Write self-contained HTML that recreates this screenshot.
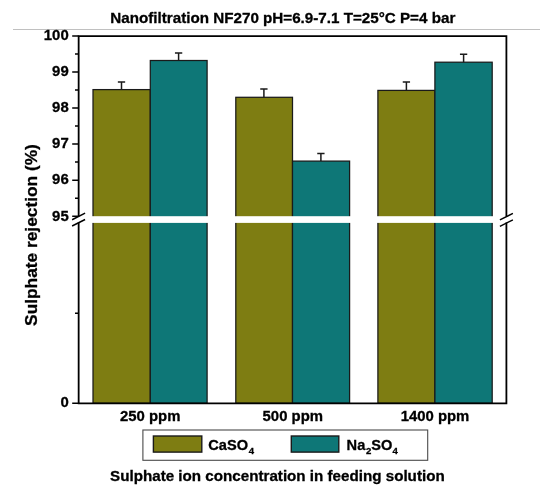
<!DOCTYPE html>
<html>
<head>
<meta charset="utf-8">
<style>
html,body{margin:0;padding:0;background:#fff;}
body{width:550px;height:494px;overflow:hidden;}
svg{display:block;}
text{font-family:"Liberation Sans",Arial,sans-serif;font-weight:bold;fill:#000;stroke:#000;stroke-width:0.3px;}
</style>
</head>
<body>
<svg width="550" height="494" viewBox="0 0 550 494">
<rect x="0" y="0" width="550" height="494" fill="#fff"/>
<text x="110.3" y="22.8" font-size="15.2" textLength="345" lengthAdjust="spacingAndGlyphs">Nanofiltration NF270 pH=6.9-7.1 T=25°C P=4 bar</text>
<rect x="13" y="29" width="527" height="1" fill="#c0c0c0"/>
<g stroke="#1a1a1a" stroke-width="1.25">
<rect x="93.0" y="89.6" width="57.30" height="129.60" fill="#7e7d12"/>
<rect x="150.3" y="60.5" width="56.80" height="158.70" fill="#0e7777"/>
<rect x="235.8" y="97.3" width="56.70" height="121.90" fill="#7e7d12"/>
<rect x="292.5" y="161.1" width="57.10" height="58.10" fill="#0e7777"/>
<rect x="377.9" y="90.4" width="57.00" height="128.80" fill="#7e7d12"/>
<rect x="434.9" y="62.2" width="57.30" height="157.00" fill="#0e7777"/>
</g>
<g stroke="#1a1a1a" stroke-width="1.25">
<rect x="93.0" y="219.9" width="57.30" height="183.40" fill="#7e7d12"/>
<rect x="150.3" y="219.9" width="56.80" height="183.40" fill="#0e7777"/>
<rect x="235.8" y="219.9" width="56.70" height="183.40" fill="#7e7d12"/>
<rect x="292.5" y="219.9" width="57.10" height="183.40" fill="#0e7777"/>
<rect x="377.9" y="219.9" width="57.00" height="183.40" fill="#7e7d12"/>
<rect x="434.9" y="219.9" width="57.30" height="183.40" fill="#0e7777"/>
</g>
<rect x="79.65" y="216.2" width="425.75" height="6.70" fill="#fff"/>
<g stroke="#1a1a1a" stroke-width="1.5" fill="none">
<path d="M121.5 89.6V82.0M117.85 82.0H125.15"/>
<path d="M178.6 60.5V53.0M174.95 53.0H182.25"/>
<path d="M263.9 97.3V88.95M260.25 88.95H267.55"/>
<path d="M320.9 161.1V153.6M317.25 153.6H324.55"/>
<path d="M406.4 90.4V82.0M402.75 82.0H410.05"/>
<path d="M463.6 62.2V54.3M459.95 54.3H467.25"/>
</g>
<g stroke="#000" stroke-width="1.8" fill="none" stroke-linecap="square">
  <path d="M78.65 215.6V36.1H506.4V215.6"/>
  <path d="M78.65 223.5V403.3H506.4V223.5"/>
</g>
<g stroke="#000" stroke-width="1.5" fill="none">
  <path d="M72.2 36.1H78.65M72.2 72.1H78.65M72.2 108.1H78.65M72.2 144.1H78.65M72.2 180.15H78.65M72.2 216.3H78.65M72.2 403.3H78.65"/>
  <path d="M75 54.10H78.65M75 90.10H78.65M75 126.10H78.65M75 162.12H78.65M75 198.23H78.65M75 313.2H78.65"/>
</g>
<g stroke="#000" stroke-width="1.45" fill="none">
  <path d="M72.1 219.75L85.1 213.2M72.1 226L85.1 219.5"/>
  <path d="M499.90 219.9L512.90 213.4M499.90 226.3L512.90 219.8"/>
</g>
<g font-size="14.9" text-anchor="end">
  <text x="68.7" y="40.10">100</text>
  <text x="68.7" y="76.10">99</text>
  <text x="68.7" y="112.10">98</text>
  <text x="68.7" y="148.10">97</text>
  <text x="68.7" y="184.15">96</text>
  <text x="68.7" y="220.50">95</text>
  <text x="68.7" y="407.30">0</text>
</g>
<g font-size="14.9" text-anchor="middle">
  <text x="150.2" y="420.8">250 ppm</text>
  <text x="292.8" y="420.8">500 ppm</text>
  <text x="435" y="420.8">1400 ppm</text>
</g>
<rect x="142.9" y="430" width="284.8" height="30.3" fill="#fff" stroke="#4a4a4a" stroke-width="1.1"/>
<rect x="153.4" y="436" width="48.4" height="16.1" fill="#7e7d12" stroke="#1a1a1a" stroke-width="1.4"/>
<rect x="291.3" y="436" width="47.5" height="16.1" fill="#0e7777" stroke="#1a1a1a" stroke-width="1.4"/>
<text x="208.3" y="450.3" font-size="14.6">CaSO<tspan font-size="9.6" dx="0.8" dy="3.2">4</tspan></text>
<text x="346.6" y="450.3" font-size="14.6">Na<tspan font-size="9.6" dx="0.8" dy="3.2">2</tspan><tspan dx="-0.2" dy="-3.2">SO</tspan><tspan font-size="9.6" dx="0.2" dy="3.2">4</tspan></text>
<text x="110.1" y="481.3" font-size="14.8" textLength="334.6" lengthAdjust="spacingAndGlyphs">Sulphate ion concentration in feeding solution</text>
<text transform="translate(37.3 325.9) rotate(-90)" font-size="17.4" textLength="181.8" lengthAdjust="spacingAndGlyphs">Sulphate rejection (%)</text>
</svg>
</body>
</html>
